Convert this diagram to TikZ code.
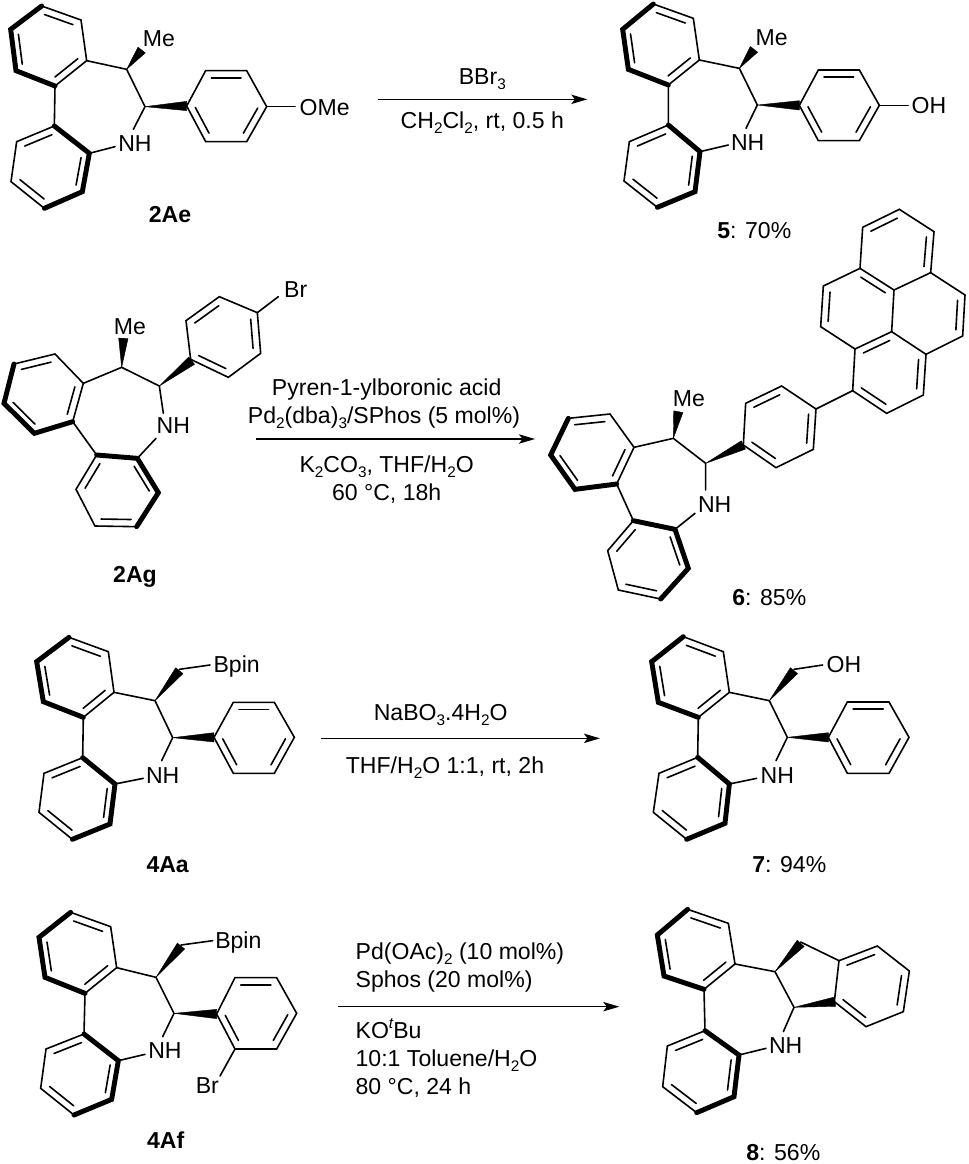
\documentclass[tikz,border=0pt]{standalone}
\usepackage{fontspec}
\setmainfont{Liberation Sans}
\usetikzlibrary{calc,arrows.meta}
\newcommand{\subt}[1]{\raisebox{-0.22em}{\fontsize{11.5}{12}\selectfont #1}}
\tikzset{
  bondline/.style={line width=1.2pt,line join=miter,line cap=round,black},
  boldbond/.style={line width=3.7pt,line join=miter,line cap=round,black},
  wedgefill/.style={fill=black,draw=black,line width=0.3pt,line join=round},
  lbl/.style={font=\fontsize{17.3}{20}\selectfont,inner sep=0pt,outer sep=0pt,text=black},
  rgt/.style={lbl,anchor=base},
  rgtl/.style={lbl,anchor=base west},
  rxn/.style={line width=1.2pt,black,-{Stealth[length=12pt,width=7pt,inset=2.6pt]}}
}
% inner line of a double bond, pulled toward a ring centre
\newcommand{\dbl}[3]{\draw[bondline,shorten >=1.2pt,shorten <=1.2pt] ($#1!0.2!#3$) -- ($#2!0.2!#3$);}
% ring with inner lines on edges 1-2, 3-4, 5-6
\newcommand{\benz}[6]{%
  \draw[bondline] #1 -- #2 -- #3 -- #4 -- #5 -- #6 -- cycle;
  \coordinate (cc) at ($#1!0.5!#4$);
  \dbl{#1}{#2}{(cc)}\dbl{#3}{#4}{(cc)}\dbl{#5}{#6}{(cc)}}
\newcommand{\wdg}[2]{\fill[wedgefill] #1 -- ($#2!3.5pt!90:#1$) -- ($#2!3.5pt!-90:#1$) -- cycle;}
\begin{document}
\begin{tikzpicture}[x=0.25pt,y=-0.25pt]
\useasboundingbox (0,0) rectangle (2907,3492);
\fill[white] (0,0) rectangle (2907,3492);

% ---------- 2Ae
\begin{scope}
\benz{(125,18)}{(243,60)}{(260,182)}{(165,258)}{(48,212)}{(32,88)}
\draw[boldbond] (165,258) -- (48,212) -- (32,88) -- (125,18);
\benz{(50,425)}{(163,378)}{(268,460)}{(247,575)}{(133,625)}{(33,545)}
\draw[boldbond] (163,378) -- (268,460) -- (247,575) -- (133,625);
\draw[bondline] (165,258) -- (163,378) (260,182) -- (380,208) -- (435,320) -- (400,388) (345,440) -- (268,460);
\wdg{(380,208)}{(425,150)}
\wdg{(435,320)}{(560,318)}
\benz{(617,212)}{(740,212)}{(800,320)}{(740,425)}{(617,425)}{(560,318)}
\draw[bondline] (800,320) -- (885,320);
\node[lbl] (meA) at (477,115) {Me};
\node[lbl] (nhA) at (405,432) {NH};
\node[lbl] (omeA) at (974,323) {OMe};
\node[lbl,font=\fontsize{17.3}{20}\selectfont\bfseries] (cpdA) at (510,645) {2Ae};
\end{scope}

% ---------- 5
\begin{scope}[shift={(1800,0)}]
\benz{(160,12)}{(280,55)}{(298,180)}{(205,255)}{(85,208)}{(68,88)}
\draw[boldbond] (205,255) -- (85,208) -- (68,88) -- (160,12);
\benz{(88,425)}{(205,375)}{(300,455)}{(285,575)}{(172,622)}{(72,543)}
\draw[boldbond] (205,375) -- (300,455) -- (285,575) -- (172,622);
\draw[bondline] (205,255) -- (205,375) (298,180) -- (418,205) -- (472,315) -- (438,385) (385,435) -- (300,455);
\wdg{(418,205)}{(462,148)}
\wdg{(472,315)}{(598,316)}
\benz{(655,210)}{(778,210)}{(838,316)}{(778,422)}{(655,422)}{(598,316)}
\draw[bondline] (838,316) -- (925,316);
\node[lbl] (meB) at (515,112) {Me};
\node[lbl] (nhB) at (443,428) {NH};
\node[lbl] (ohB) at (987,318) {OH};
\node[lbl] (cpdB) at (463,692) {\textbf{5}: 70\%};
\end{scope}

% ---------- 2Ag
\begin{scope}[shift={(0,810)}]
\benz{(42,282)}{(165,252)}{(250,340)}{(218,455)}{(103,490)}{(12,400)}
\draw[boldbond] (218,455) -- (103,490) -- (12,400) -- (42,282);
\benz{(228,658)}{(290,555)}{(412,565)}{(475,668)}{(410,770)}{(285,768)}
\draw[boldbond] (290,555) -- (412,565) -- (475,668) -- (410,770);
\draw[bondline] (218,455) -- (290,555) (250,340) -- (365,292) -- (478,348) -- (490,430) (468,505) -- (412,565);
\wdg{(365,292)}{(370,205)}
\wdg{(478,348)}{(575,272)}
\benz{(558,152)}{(658,80)}{(772,128)}{(782,250)}{(685,322)}{(572,268)}
\draw[bondline] (772,128) -- (835,80);
\node[lbl] (meC) at (390,170) {Me};
\node[lbl] (nhC) at (520,468) {NH};
\node[lbl] (brC) at (887,58) {Br};
\node[lbl,font=\fontsize{17.3}{20}\selectfont\bfseries] (cpdC) at (405,922) {2Ag};
\end{scope}

% ---------- 6
\begin{scope}[shift={(1620,600)}]
\benz{(85,655)}{(210,642)}{(282,742)}{(230,852)}{(105,868)}{(32,765)}
\draw[boldbond] (230,852) -- (105,868) -- (32,765) -- (85,655);
\benz{(203,1052)}{(280,962)}{(405,988)}{(445,1105)}{(362,1197)}{(235,1170)}
\draw[boldbond] (280,962) -- (405,988) -- (445,1105) -- (362,1197);
\draw[bondline] (230,852) -- (280,962) (282,742) -- (400,715) -- (497,790) -- (497,870) (465,940) -- (405,988);
\wdg{(400,715)}{(415,635)}
\wdg{(497,790)}{(610,735)}
\benz{(617,610)}{(725,558)}{(828,627)}{(820,748)}{(708,803)}{(610,735)}
\draw[bondline] (828,627) -- (938,572);
% pyrene
\draw[bondline] (938,572) -- (945,447) -- (842,380) -- (850,258) -- (960,205) -- (968,82) -- (1078,28) -- (1182,95) -- (1172,218) -- (1275,285) -- (1268,408) -- (1158,463) -- (1150,585) -- (1040,640) -- cycle;
\draw[bondline] (945,447) -- (1055,395) -- (1062,270) -- (960,205) (1062,270) -- (1172,218) (1055,395) -- (1158,463);
\coordinate (pl) at (1048,517);
\coordinate (pm) at (952,325);
\coordinate (pt) at (1070,150);
\coordinate (pr) at (1165,340);
\dbl{(938,572)}{(1040,640)}{(pl)}
\dbl{(1158,463)}{(1150,585)}{(pl)}
\dbl{(945,447)}{(1055,395)}{(pl)}
\dbl{(850,258)}{(842,380)}{(pm)}
\dbl{(960,205)}{(1062,270)}{(pm)}
\dbl{(968,82)}{(1078,28)}{(pt)}
\dbl{(1182,95)}{(1172,218)}{(pt)}
\dbl{(1275,285)}{(1268,408)}{(pr)}
\node[lbl] (meD) at (447,597) {Me};
\node[lbl] (nhD) at (524,915) {NH};
\node[lbl] (cpdD) at (688,1192) {\textbf{6}: 85\%};
\end{scope}

% ---------- 4Aa
\begin{scope}[shift={(60,1890)}]
\benz{(147,22)}{(265,65)}{(282,187)}{(190,262)}{(70,215)}{(50,95)}
\draw[boldbond] (190,262) -- (70,215) -- (50,95) -- (147,22);
\benz{(72,430)}{(188,383)}{(285,462)}{(270,582)}{(157,628)}{(57,547)}
\draw[boldbond] (188,383) -- (285,462) -- (270,582) -- (157,628);
\draw[bondline] (190,262) -- (188,383) (282,187) -- (405,212) -- (458,323) -- (425,392) (370,445) -- (285,462);
\wdg{(405,212)}{(478,122)}
\draw[bondline] (478,118) -- (570,105);
\wdg{(458,323)}{(582,322)}
\benz{(640,217)}{(763,217)}{(823,322)}{(763,430)}{(640,430)}{(582,322)}
\node[lbl] (bpE) at (650,110) {Bpin};
\node[lbl] (nhE) at (428,438) {NH};
\node[lbl,font=\fontsize{17.3}{20}\selectfont\bfseries] (cpdE) at (443,703) {4Aa};
\end{scope}

% ---------- 7
\begin{scope}[shift={(1920,1890)}]
\benz{(130,20)}{(250,65)}{(268,187)}{(175,262)}{(55,217)}{(35,95)}
\draw[boldbond] (175,262) -- (55,217) -- (35,95) -- (130,20);
\benz{(57,430)}{(173,382)}{(268,462)}{(255,580)}{(140,628)}{(40,547)}
\draw[boldbond] (173,382) -- (268,462) -- (255,580) -- (140,628);
\draw[bondline] (175,262) -- (173,382) (268,187) -- (388,212) -- (442,322) -- (408,392) (350,445) -- (268,462);
\wdg{(388,212)}{(462,122)}
\draw[bondline] (462,118) -- (548,105);
\wdg{(442,322)}{(565,322)}
\benz{(622,216)}{(747,216)}{(807,322)}{(747,430)}{(622,430)}{(565,322)}
\node[lbl] (ohF) at (612,103) {OH};
\node[lbl] (nhF) at (412,436) {NH};
\node[lbl] (cpdF) at (448,705) {\textbf{7}: 94\%};
\end{scope}

% ---------- 4Af
\begin{scope}[shift={(60,2670)}]
\benz{(152,67)}{(272,110)}{(290,233)}{(195,310)}{(75,262)}{(57,142)}
\draw[boldbond] (195,310) -- (75,262) -- (57,142) -- (152,67);
\benz{(78,477)}{(192,432)}{(295,512)}{(275,628)}{(162,675)}{(62,595)}
\draw[boldbond] (192,432) -- (295,512) -- (275,628) -- (162,675);
\draw[bondline] (195,310) -- (192,432) (290,233) -- (408,262) -- (462,370) -- (428,440) (375,493) -- (295,512);
\wdg{(408,262)}{(483,168)}
\draw[bondline] (483,165) -- (578,152);
\wdg{(462,370)}{(590,372)}
\benz{(645,263)}{(770,263)}{(830,370)}{(770,477)}{(645,477)}{(590,372)}
\draw[bondline] (645,477) -- (600,558);
\node[lbl] (bpG) at (655,158) {Bpin};
\node[lbl] (brG) at (562,587) {Br};
\node[lbl] (nhG) at (435,483) {NH};
\node[lbl,font=\fontsize{17.3}{20}\selectfont\bfseries] (cpdG) at (437,750) {4Af};
\end{scope}

% ---------- 8
\begin{scope}[shift={(1920,2670)}]
\benz{(143,58)}{(265,100)}{(285,222)}{(192,298)}{(72,258)}{(52,135)}
\draw[boldbond] (192,298) -- (72,258) -- (52,135) -- (143,58);
\benz{(82,468)}{(195,422)}{(297,495)}{(282,620)}{(170,668)}{(68,590)}
\draw[boldbond] (195,422) -- (297,495) -- (282,620) -- (170,668);
\draw[bondline] (192,298) -- (195,422) (285,222) -- (405,245) -- (462,352) -- (430,425) (378,475) -- (297,495);
\wdg{(405,245)}{(482,160)}
\draw[bondline] (482,156) -- (597,212);
\wdg{(462,352)}{(585,335)}
\benz{(597,212)}{(712,168)}{(808,243)}{(790,365)}{(678,410)}{(583,335)}
\node[lbl] (nhH) at (437,466) {NH};
\node[lbl] (cpdH) at (430,788) {\textbf{8}: 56\%};
\end{scope}

% ---------- reaction arrows and conditions
\coordinate (a1s) at (1135,298); \coordinate (a1e) at (1762,298);
\draw[rxn] (a1s) -- (a1e);
\node[rgt] (t1a) at (1447,252) {BBr\subt{3}};
\node[rgt] (t1b) at (1447,385) {CH\subt{2}Cl\subt{2}, rt, 0.5 h};

\coordinate (a2s) at (767,1317); \coordinate (a2e) at (1605,1317);
\draw[rxn] (a2s) -- (a2e);
\node[rgt] (t2a) at (1160,1185) {Pyren-1-ylboronic acid};
\node[rgt] (t2b) at (1152,1270) {Pd\subt{2}(dba)\subt{3}/SPhos (5 mol\%)};
\node[rgt] (t2c) at (1160,1418) {K\subt{2}CO\subt{3}, THF/H\subt{2}O};
\node[rgt] (t2d) at (1160,1502) {60 °C, 18h};

\coordinate (a3s) at (962,2215); \coordinate (a3e) at (1800,2215);
\draw[rxn] (a3s) -- (a3e);
\node[rgt] (t3a) at (1322,2160) {NaBO\subt{3}.4H\subt{2}O};
\node[rgt] (t3b) at (1335,2320) {THF/H\subt{2}O 1:1, rt, 2h};

\coordinate (a4s) at (1014,3020); \coordinate (a4e) at (1858,3020);
\draw[rxn] (a4s) -- (a4e);
\node[rgtl] (t4a) at (1067,2878) {Pd(OAc)\subt{2} (10 mol\%)};
\node[rgtl] (t4b) at (1067,2962) {Sphos (20 mol\%)};
\node[rgtl] (t4c) at (1067,3115) {KO\raisebox{0.42em}{\fontsize{11.5}{12}\selectfont\itshape t}Bu};
\node[rgtl] (t4d) at (1067,3200) {10:1 Toluene/H\subt{2}O};
\node[rgtl] (t4e) at (1067,3283) {80 °C, 24 h};
\end{tikzpicture}
\end{document}
